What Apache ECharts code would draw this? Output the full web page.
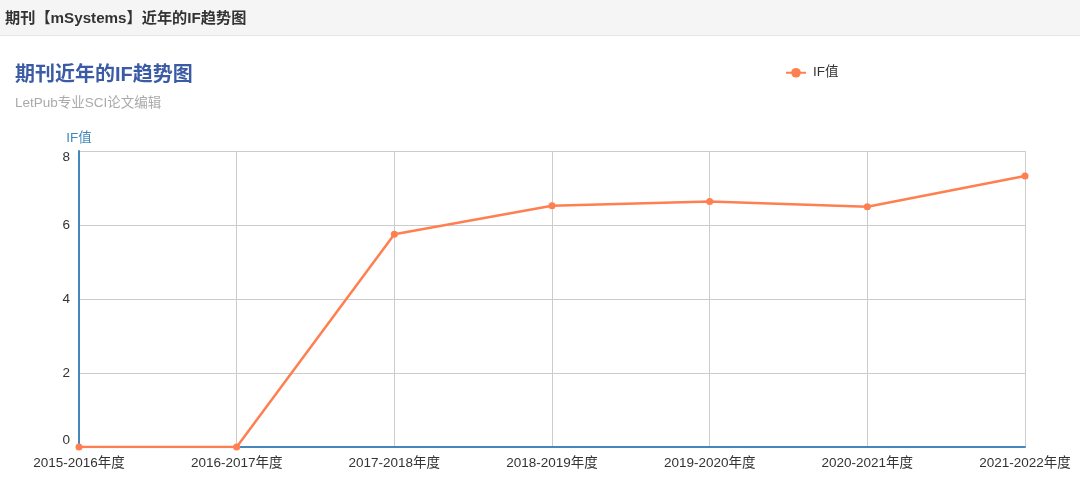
<!DOCTYPE html>
<html><head><meta charset="utf-8">
<script src="https://cdn.jsdelivr.net/npm/echarts@6/dist/echarts.min.js"></script>
<style>html,body{margin:0;padding:0;background:#fff;}#c{width:1080px;height:493px;}</style>
</head><body><div id="c"></div>
<script>
const pageHeader = '期刊【mSystems】近年的IF趋势图';
const chartTitle = '期刊近年的IF趋势图';
const chartSubtitle = 'LetPub专业SCI论文编辑';
const seriesName = 'IF值';
const categories = ['2015-2016年度','2016-2017年度','2017-2018年度','2018-2019年度','2019-2020年度','2020-2021年度','2021-2022年度'];
const ifValues = [0, 0, 5.75, 6.519, 6.633, 6.496, 7.324];

const FONT = "'Liberation Sans', 'Noto Sans CJK SC', sans-serif";
const chart = echarts.init(document.getElementById('c'));
chart.setOption({
  animation: false,
  textStyle: {fontFamily: FONT},
  graphic: [
    {type: 'rect', left: 0, top: 0, shape: {width: 1080, height: 35}, style: {fill: '#f5f5f5'}, silent: true},
    {type: 'rect', left: 0, top: 35, shape: {width: 1080, height: 1}, style: {fill: '#e6e6e6'}, silent: true}
  ],
  title: [
    {text: pageHeader, left: 0, top: 6, textStyle: {fontSize: 15.2, fontWeight: 'bold', color: '#333', fontFamily: FONT}},
    {text: chartTitle, subtext: chartSubtitle, left: 10, top: 60, itemGap: 12,
     textStyle: {fontSize: 20, fontWeight: 'bold', color: '#3b5ba5', fontFamily: FONT},
     subtextStyle: {fontSize: 13.5, color: '#aaa', fontFamily: FONT}}
  ],
  legend: {data: [seriesName], left: 780, top: 61, itemWidth: 20, itemHeight: 12, itemGap: 10,
    textStyle: {fontSize: 13.5, color: '#333', fontFamily: FONT, padding: [0, 0, 0, 2]}},
  grid: {left: 79, right: 55, top: 151, bottom: 46, containLabel: false},
  xAxis: {
    type: 'category', data: categories, boundaryGap: false,
    axisLine: {lineStyle: {color: '#4488bb', width: 2}},
    axisTick: {show: false},
    axisLabel: {color: '#333', fontSize: 13.5, margin: 10, fontFamily: FONT},
    splitLine: {show: true, lineStyle: {color: '#ccc', width: 1}}
  },
  yAxis: {
    type: 'value', min: 0, max: 8, interval: 2, name: seriesName,
    nameTextStyle: {color: '#4488bb', fontSize: 13.5, fontFamily: FONT},
    nameGap: 6,
    axisLine: {show: true, lineStyle: {color: '#4488bb', width: 2}},
    axisTick: {show: false},
    axisLabel: {color: '#333', fontSize: 13.5, margin: 9, fontFamily: FONT,
      verticalAlignMinLabel: 'bottom', verticalAlignMaxLabel: 'top'},
    splitLine: {show: true, lineStyle: {color: '#ccc', width: 1}}
  },
  series: [{
    name: seriesName, type: 'line', data: ifValues,
    symbol: 'circle', symbolSize: 7,
    itemStyle: {color: '#ff7f50'},
    lineStyle: {color: '#ff7f50', width: 2.5}
  }]
});
</script></body></html>
